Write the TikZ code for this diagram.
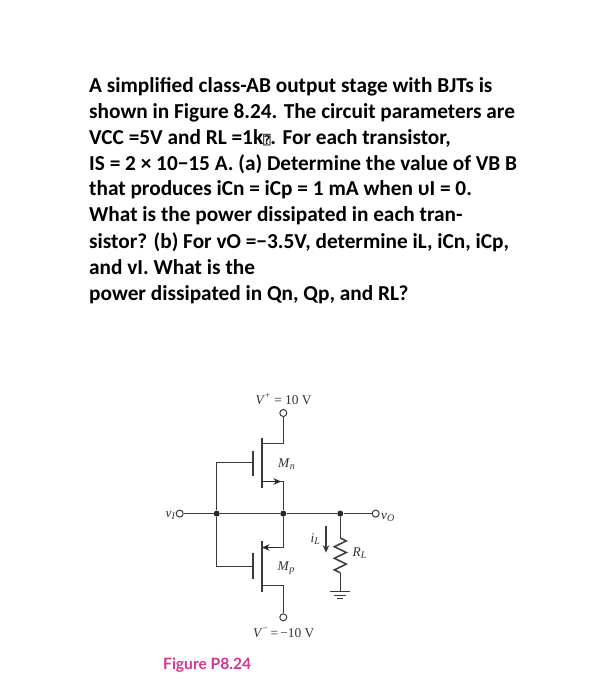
\documentclass[tikz,border=0pt]{standalone}
\usepackage{fontspec}
\setmainfont{Carlito}
\newfontfamily\cirfont{Liberation Serif}
\newfontfamily\symfont{DejaVu Sans Mono}
\newfontfamily\figfont{Lato}
\definecolor{wirecol}{HTML}{3A3A3A}
\definecolor{labcol}{HTML}{333333}
\definecolor{figcol}{HTML}{D5348F}
\newcommand{\subl}[1]{\raisebox{-2.5pt}{\fontsize{10}{10}\selectfont\textit{#1}}}
\tikzset{
  body/.style={anchor=base west,inner sep=0pt,font=\fontsize{21.3}{24}\selectfont\bfseries,text=black},
  wire/.style={draw=wirecol,line width=1.1pt},
  bar/.style={draw=wirecol,line width=1.7pt},
  term/.style={circle,draw=wirecol,line width=1pt,fill=white,minimum size=7pt,inner sep=0pt},
  junc/.style={circle,fill=black!85,minimum size=6pt,inner sep=0pt},
  lab/.style={inner sep=0pt,text=labcol,font=\cirfont\fontsize{13.4}{15}\selectfont},
  tip/.style={-{Stealth[length=7.5pt,width=6.5pt]}}
}
\usetikzlibrary{arrows.meta}
\begin{document}
\begin{tikzpicture}[x=1pt,y=-1pt]
\useasboundingbox[fill=white] (0,0) rectangle (608,700);
% text
\node[body] (t1) at (89,92.5) {A simplified class-AB output stage with BJTs is};
\node[body] (t2) at (89,118.5) {shown in Figure 8.24. The circuit parameters are};
\node[body] (t3) at (89,144.5) {VCC =5V and RL =1k{\symfont\fontsize{12}{12}\selectfont ⍰}. For each transistor,};
\node[body] (t4) at (89,170.5) {IS = 2 × 10−15 A. (a) Determine the value of VB B};
\node[body] (t5) at (89,196) {that produces iCn = iCp = 1 mA when υI = 0.};
\node[body] (t6) at (89,221.5) {What is the power dissipated in each tran-};
\node[body] (t7) at (89,248) {sistor? (b) For vO =−3.5V, determine iL, iCn, iCp,};
\node[body] (t8) at (89,274) {and vI. What is the};
\node[body] (t9) at (89,300.5) {power dissipated in Qn, Qp, and RL?};
\node[anchor=base west,inner sep=0pt,text=figcol,font=\figfont\bfseries\fontsize{15.6}{18}\selectfont] (figlab) at (163,669) {Figure P8.24};
% terminals and junctions
\node[term] (vdd) at (283.3,413) {};
\node[term] (vss) at (283.3,617.3) {};
\node[term] (vi) at (179.7,513.6) {};
\node[term] (vo) at (375.7,513.6) {};
\node[junc] (ja) at (216.7,513.6) {};
\node[junc] (jb) at (283.3,513.6) {};
\node[junc] (jc) at (340.3,513.6) {};
% coordinates
\coordinate (nd) at (262,443.5);
\coordinate (ns) at (262,481.5);
\coordinate (ng) at (252.7,462.5);
\coordinate (pup) at (262,547.5);
\coordinate (pdn) at (262,585.5);
\coordinate (pg) at (252.7,566.5);
\coordinate (rtop) at (340.3,538);
\coordinate (rbot) at (340.3,572.7);
\coordinate (gnd) at (340.3,591.3);
\coordinate (iltop) at (326,526);
\coordinate (ilbot) at (326,552.7);
% NMOS
\draw[bar] (262,437.7) -- (262,488);
\draw[bar] (252.7,450.7) -- (252.7,475.7);
\draw[wire] (vdd) -- (nd -| vdd) -- (nd);
\draw[wire] (ng) -- (ng -| ja) -- (ja);
\draw[wire] (ns) -- (ns -| jb) -- (jb);
\draw[tip,draw=black!85,line width=1.1pt] (ns) -- (281,481.5);
% PMOS
\draw[bar] (262,541) -- (262,591.7);
\draw[bar] (252.7,553) -- (252.7,579);
\draw[wire] (ja) -- (pg -| ja) -- (pg);
\draw[wire] (jb) -- (pup -| jb) -- (pup);
\draw[tip,draw=black!85,line width=1.1pt] (277,547.5) -- (pup);
\draw[wire] (pdn) -- (pdn -| vss) -- (vss);
% output
\draw[wire] (vi) -- (ja);
\draw[wire] (ja) -- (jb);
\draw[wire] (jb) -- (jc);
\draw[wire] (jc) -- (vo);
\draw[wire] (jc) -- (rtop);
\draw[wire,line width=1.5pt,line join=miter] (rtop) -- ++(6,2.9) -- ++(-12,5.8) -- ++(12,5.8) -- ++(-12,5.8) -- ++(12,5.8) -- ++(-12,5.8) -- (rbot);
\draw[wire] (rbot) -- (gnd);
\draw[wire,line width=1.4pt] ([xshift=-10pt]gnd) -- ([xshift=10pt]gnd);
\draw[wire] ([xshift=-6pt,yshift=-3.8pt]gnd) -- ([xshift=6pt,yshift=-3.8pt]gnd);
\draw[wire] ([xshift=-3pt,yshift=-7.4pt]gnd) -- ([xshift=3pt,yshift=-7.4pt]gnd);
\draw[wire,tip] (iltop) -- (ilbot);
% labels
\node[lab,anchor=base] (lvp) at (283.7,404) {\textit{V}\textsuperscript{+} = 10 V};
\node[lab,anchor=base] (lvn) at (283.7,637) {\textit{V}\textsuperscript{−}\,=\,−10 V};
\node[lab,anchor=base west] (lmn) at (278,467) {\textit{M}\subl{n}};
\node[lab,anchor=base west] (lmp) at (277.5,570) {\textit{M}\subl{p}};
\node[lab,anchor=base east] (lvi) at (175.5,517) {\textit{v}\subl{I}};
\node[lab,anchor=base west] (lvo) at (381,519) {\textit{v}\subl{O}};
\node[lab,anchor=base west] (lil) at (310.5,542) {\textit{i}\subl{L}};
\node[lab,anchor=base west] (lrl) at (352.5,556) {\textit{R}\subl{L}};
\end{tikzpicture}
\end{document}
